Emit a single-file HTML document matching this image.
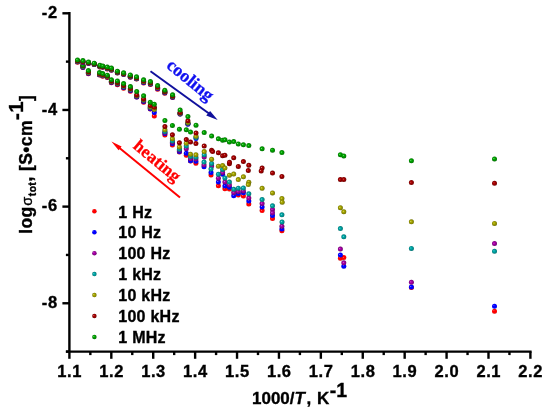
<!DOCTYPE html>
<html><head><meta charset="utf-8"><style>
html,body{margin:0;padding:0;background:#fff;}
body{width:550px;height:413px;overflow:hidden;}
svg{display:block;}
.t{font-family:"Liberation Sans",Arial,sans-serif;font-weight:bold;fill:#000;stroke:#000;stroke-width:0.35px;}
</style></head><body>
<svg width="550" height="413" viewBox="0 0 550 413">
<defs>
<radialGradient id="s0" cx="0.5" cy="0.5" r="0.55" fx="0.36" fy="0.4"><stop offset="0" stop-color="#ff9999"/><stop offset="0.28" stop-color="#ff0000"/><stop offset="0.8" stop-color="#ff0000"/><stop offset="1" stop-color="#b20000"/></radialGradient>
<radialGradient id="s1" cx="0.5" cy="0.5" r="0.55" fx="0.36" fy="0.4"><stop offset="0" stop-color="#9999ff"/><stop offset="0.28" stop-color="#0000ff"/><stop offset="0.8" stop-color="#0000ff"/><stop offset="1" stop-color="#0000b2"/></radialGradient>
<radialGradient id="s2" cx="0.5" cy="0.5" r="0.55" fx="0.36" fy="0.4"><stop offset="0" stop-color="#de99de"/><stop offset="0.28" stop-color="#ad00ad"/><stop offset="0.8" stop-color="#800080"/><stop offset="1" stop-color="#5a005a"/></radialGradient>
<radialGradient id="s3" cx="0.5" cy="0.5" r="0.55" fx="0.36" fy="0.4"><stop offset="0" stop-color="#99dede"/><stop offset="0.28" stop-color="#00adad"/><stop offset="0.8" stop-color="#008080"/><stop offset="1" stop-color="#005a5a"/></radialGradient>
<radialGradient id="s4" cx="0.5" cy="0.5" r="0.55" fx="0.36" fy="0.4"><stop offset="0" stop-color="#dede99"/><stop offset="0.28" stop-color="#adad00"/><stop offset="0.8" stop-color="#808000"/><stop offset="1" stop-color="#5a5a00"/></radialGradient>
<radialGradient id="s5" cx="0.5" cy="0.5" r="0.55" fx="0.36" fy="0.4"><stop offset="0" stop-color="#de9999"/><stop offset="0.28" stop-color="#ad0000"/><stop offset="0.8" stop-color="#800000"/><stop offset="1" stop-color="#5a0000"/></radialGradient>
<radialGradient id="s6" cx="0.5" cy="0.5" r="0.55" fx="0.36" fy="0.4"><stop offset="0" stop-color="#99de99"/><stop offset="0.28" stop-color="#00ad00"/><stop offset="0.8" stop-color="#008000"/><stop offset="1" stop-color="#005a00"/></radialGradient>
</defs>
<g stroke="#000" stroke-width="2.4" fill="none">
<line x1="69.4" y1="12" x2="69.4" y2="351.6"/>
<line x1="65.9" y1="351.6" x2="531.6" y2="351.6"/>
<line x1="69.40" y1="351.60" x2="69.40" y2="358.80"/>
<line x1="90.35" y1="351.60" x2="90.35" y2="355.10"/>
<line x1="111.31" y1="351.60" x2="111.31" y2="358.80"/>
<line x1="132.26" y1="351.60" x2="132.26" y2="355.10"/>
<line x1="153.22" y1="351.60" x2="153.22" y2="358.80"/>
<line x1="174.17" y1="351.60" x2="174.17" y2="355.10"/>
<line x1="195.13" y1="351.60" x2="195.13" y2="358.80"/>
<line x1="216.08" y1="351.60" x2="216.08" y2="355.10"/>
<line x1="237.04" y1="351.60" x2="237.04" y2="358.80"/>
<line x1="257.99" y1="351.60" x2="257.99" y2="355.10"/>
<line x1="278.95" y1="351.60" x2="278.95" y2="358.80"/>
<line x1="299.90" y1="351.60" x2="299.90" y2="355.10"/>
<line x1="320.85" y1="351.60" x2="320.85" y2="358.80"/>
<line x1="341.81" y1="351.60" x2="341.81" y2="355.10"/>
<line x1="362.76" y1="351.60" x2="362.76" y2="358.80"/>
<line x1="383.72" y1="351.60" x2="383.72" y2="355.10"/>
<line x1="404.67" y1="351.60" x2="404.67" y2="358.80"/>
<line x1="425.63" y1="351.60" x2="425.63" y2="355.10"/>
<line x1="446.58" y1="351.60" x2="446.58" y2="358.80"/>
<line x1="467.54" y1="351.60" x2="467.54" y2="355.10"/>
<line x1="488.49" y1="351.60" x2="488.49" y2="358.80"/>
<line x1="509.45" y1="351.60" x2="509.45" y2="355.10"/>
<line x1="530.40" y1="351.60" x2="530.40" y2="358.80"/>
<line x1="62.40" y1="13.30" x2="69.40" y2="13.30"/>
<line x1="65.90" y1="61.63" x2="69.40" y2="61.63"/>
<line x1="62.40" y1="109.96" x2="69.40" y2="109.96"/>
<line x1="65.90" y1="158.29" x2="69.40" y2="158.29"/>
<line x1="62.40" y1="206.61" x2="69.40" y2="206.61"/>
<line x1="65.90" y1="254.94" x2="69.40" y2="254.94"/>
<line x1="62.40" y1="303.27" x2="69.40" y2="303.27"/>
<line x1="65.90" y1="351.60" x2="69.40" y2="351.60"/>
</g>
<g class="t" font-size="16.5" letter-spacing="0.6" text-anchor="middle">
<text x="69.70" y="376.9">1.1</text>
<text x="111.61" y="376.9">1.2</text>
<text x="153.52" y="376.9">1.3</text>
<text x="195.43" y="376.9">1.4</text>
<text x="237.34" y="376.9">1.5</text>
<text x="279.25" y="376.9">1.6</text>
<text x="321.15" y="376.9">1.7</text>
<text x="363.06" y="376.9">1.8</text>
<text x="404.97" y="376.9">1.9</text>
<text x="446.88" y="376.9">2.0</text>
<text x="488.79" y="376.9">2.1</text>
<text x="530.70" y="376.9">2.2</text>
</g>
<g class="t" font-size="16.5" letter-spacing="1" text-anchor="end">
<text x="58.3" y="17.90">-2</text>
<text x="58.3" y="114.56">-4</text>
<text x="58.3" y="211.21">-6</text>
<text x="58.3" y="307.87">-8</text>
</g>
<text class="t" font-size="17" x="252" y="404">1000/<tspan font-style="italic">T</tspan><tspan dx="1.5">,</tspan><tspan dx="1.2"> K</tspan><tspan dy="-7.5" dx="0.5" font-size="19.5">-1</tspan></text>
<text class="t" font-size="17.5" letter-spacing="0.4" transform="translate(31.5,233.8) rotate(-90)">log<tspan font-weight="normal" font-size="14.5" dx="0.5">&#963;</tspan><tspan dy="4.3" font-size="10.3" dx="0.3">tot</tspan><tspan dy="-4.3" dx="0.3">, [S&#8226;cm</tspan><tspan dy="-8.2" font-size="20.5">-1</tspan><tspan dy="8.2">]</tspan></text>
<g class="t" font-size="16" letter-spacing="0.25">
<circle cx="94.4" cy="211.30" r="2.25" stroke="none" fill="url(#s0)"/>
<text x="118.3" y="217.50">1 Hz</text>
<circle cx="94.4" cy="232.23" r="2.25" stroke="none" fill="url(#s1)"/>
<text x="118.3" y="238.43">10 Hz</text>
<circle cx="94.4" cy="253.16" r="2.25" stroke="none" fill="url(#s2)"/>
<text x="118.3" y="259.36">100 Hz</text>
<circle cx="94.4" cy="274.09" r="2.25" stroke="none" fill="url(#s3)"/>
<text x="118.3" y="280.29">1 kHz</text>
<circle cx="94.4" cy="295.02" r="2.25" stroke="none" fill="url(#s4)"/>
<text x="118.3" y="301.22">10 kHz</text>
<circle cx="94.4" cy="315.95" r="2.25" stroke="none" fill="url(#s5)"/>
<text x="118.3" y="322.15">100 kHz</text>
<circle cx="94.4" cy="336.88" r="2.25" stroke="none" fill="url(#s6)"/>
<text x="118.3" y="343.08">1 MHz</text>
</g>
<!-- arrows -->
<g>
<line x1="150.5" y1="71.3" x2="209" y2="113.5" stroke="#10109c" stroke-width="2"/>
<polygon points="217.7,120 206.2,115.6 210.1,110.9" fill="#10109c"/>
<line x1="180" y1="197.5" x2="119.5" y2="148" stroke="#ff0000" stroke-width="2"/>
<polygon points="111.4,141.5 121.6,146.6 118.6,150.3" fill="#ff0000"/>
</g>
<text font-family="'Liberation Serif',serif" font-weight="bold" font-size="18" fill="#1010f0" stroke="#1010f0" stroke-width="0.3" transform="translate(165.4,66.9) rotate(39.5)">cooling</text>
<text font-family="'Liberation Serif',serif" font-weight="bold" font-size="17.5" fill="#ff0000" stroke="#ff0000" stroke-width="0.3" transform="translate(132.3,147.6) rotate(39.5)">heating</text>
<g>
<circle cx="82.9" cy="67.6" r="2.5" fill="url(#s0)"/>
<circle cx="82.9" cy="67.2" r="2.5" fill="url(#s1)"/>
<circle cx="82.9" cy="66.8" r="2.5" fill="url(#s2)"/>
<circle cx="82.9" cy="66.4" r="2.5" fill="url(#s3)"/>
<circle cx="82.9" cy="66" r="2.5" fill="url(#s4)"/>
<circle cx="82.9" cy="65.6" r="2.5" fill="url(#s5)"/>
<circle cx="82.9" cy="65.2" r="2.5" fill="url(#s6)"/>
<circle cx="77.5" cy="62.2" r="2.5" fill="url(#s0)"/>
<circle cx="82.9" cy="62.6" r="2.5" fill="url(#s0)"/>
<circle cx="88.5" cy="63.4" r="2.5" fill="url(#s0)"/>
<circle cx="94.2" cy="64.6" r="2.5" fill="url(#s0)"/>
<circle cx="99.9" cy="67" r="2.5" fill="url(#s0)"/>
<circle cx="102.7" cy="67.2" r="2.5" fill="url(#s0)"/>
<circle cx="107.3" cy="68.9" r="2.5" fill="url(#s0)"/>
<circle cx="111.4" cy="70.2" r="2.5" fill="url(#s0)"/>
<circle cx="117.4" cy="73" r="2.5" fill="url(#s0)"/>
<circle cx="123.6" cy="74.6" r="2.5" fill="url(#s0)"/>
<circle cx="130.3" cy="77.3" r="2.5" fill="url(#s0)"/>
<circle cx="136.5" cy="79.1" r="2.5" fill="url(#s0)"/>
<circle cx="143.6" cy="83" r="2.5" fill="url(#s0)"/>
<circle cx="150.4" cy="84.6" r="2.5" fill="url(#s0)"/>
<circle cx="157.6" cy="89.2" r="2.5" fill="url(#s0)"/>
<circle cx="164.8" cy="93.2" r="2.5" fill="url(#s0)"/>
<circle cx="172.6" cy="97.6" r="2.5" fill="url(#s0)"/>
<circle cx="180.1" cy="114.1" r="2.5" fill="url(#s0)"/>
<circle cx="187.9" cy="123.5" r="2.5" fill="url(#s0)"/>
<circle cx="88.4" cy="73.8" r="2.5" fill="url(#s0)"/>
<circle cx="99.5" cy="75.1" r="2.5" fill="url(#s0)"/>
<circle cx="102.7" cy="76.2" r="2.5" fill="url(#s0)"/>
<circle cx="107.3" cy="77.5" r="2.5" fill="url(#s0)"/>
<circle cx="111.4" cy="82.8" r="2.5" fill="url(#s0)"/>
<circle cx="117.4" cy="84.7" r="2.5" fill="url(#s0)"/>
<circle cx="123.6" cy="88.2" r="2.5" fill="url(#s0)"/>
<circle cx="130.4" cy="91.2" r="2.5" fill="url(#s0)"/>
<circle cx="136.7" cy="97.1" r="2.5" fill="url(#s0)"/>
<circle cx="143.6" cy="102.2" r="2.5" fill="url(#s0)"/>
<circle cx="150.3" cy="109.1" r="2.5" fill="url(#s0)"/>
<circle cx="154.3" cy="116" r="2.5" fill="url(#s0)"/>
<circle cx="164.9" cy="134.9" r="2.5" fill="url(#s0)"/>
<circle cx="172.4" cy="145" r="2.5" fill="url(#s0)"/>
<circle cx="179.4" cy="152" r="2.5" fill="url(#s0)"/>
<circle cx="186.3" cy="155.2" r="2.5" fill="url(#s0)"/>
<circle cx="190.5" cy="161" r="2.5" fill="url(#s0)"/>
<circle cx="195.9" cy="163.3" r="2.5" fill="url(#s0)"/>
<circle cx="211" cy="175.1" r="2.5" fill="url(#s0)"/>
<circle cx="218.4" cy="185.7" r="2.5" fill="url(#s0)"/>
<circle cx="224.9" cy="188.8" r="2.5" fill="url(#s0)"/>
<circle cx="229.4" cy="189.1" r="2.5" fill="url(#s0)"/>
<circle cx="238.3" cy="195" r="2.5" fill="url(#s0)"/>
<circle cx="243.4" cy="196" r="2.5" fill="url(#s0)"/>
<circle cx="248.8" cy="203.9" r="2.5" fill="url(#s0)"/>
<circle cx="262.1" cy="210.6" r="2.5" fill="url(#s0)"/>
<circle cx="272.5" cy="218.5" r="2.5" fill="url(#s0)"/>
<circle cx="281.9" cy="230.8" r="2.5" fill="url(#s0)"/>
<circle cx="340.4" cy="258.2" r="2.5" fill="url(#s0)"/>
<circle cx="343.8" cy="257.6" r="2.5" fill="url(#s0)"/>
<circle cx="411.4" cy="287.5" r="2.5" fill="url(#s0)"/>
<circle cx="494.5" cy="311.2" r="2.5" fill="url(#s0)"/>
<circle cx="77.5" cy="61.8" r="2.5" fill="url(#s1)"/>
<circle cx="82.9" cy="62.3" r="2.5" fill="url(#s1)"/>
<circle cx="88.5" cy="63.2" r="2.5" fill="url(#s1)"/>
<circle cx="94.2" cy="64.4" r="2.5" fill="url(#s1)"/>
<circle cx="99.9" cy="66.7" r="2.5" fill="url(#s1)"/>
<circle cx="102.7" cy="67" r="2.5" fill="url(#s1)"/>
<circle cx="107.3" cy="68.6" r="2.5" fill="url(#s1)"/>
<circle cx="111.4" cy="69.9" r="2.5" fill="url(#s1)"/>
<circle cx="117.4" cy="72.7" r="2.5" fill="url(#s1)"/>
<circle cx="123.6" cy="74.3" r="2.5" fill="url(#s1)"/>
<circle cx="130.3" cy="76.9" r="2.5" fill="url(#s1)"/>
<circle cx="136.5" cy="78.7" r="2.5" fill="url(#s1)"/>
<circle cx="143.6" cy="82.5" r="2.5" fill="url(#s1)"/>
<circle cx="150.4" cy="84.1" r="2.5" fill="url(#s1)"/>
<circle cx="157.6" cy="88.6" r="2.5" fill="url(#s1)"/>
<circle cx="164.8" cy="92.7" r="2.5" fill="url(#s1)"/>
<circle cx="172.6" cy="97.2" r="2.5" fill="url(#s1)"/>
<circle cx="180.1" cy="114" r="2.5" fill="url(#s1)"/>
<circle cx="187.9" cy="124.3" r="2.5" fill="url(#s1)"/>
<circle cx="196" cy="138.6" r="2.5" fill="url(#s1)"/>
<circle cx="88.4" cy="73.3" r="2.5" fill="url(#s1)"/>
<circle cx="99.5" cy="74.7" r="2.5" fill="url(#s1)"/>
<circle cx="102.7" cy="75.8" r="2.5" fill="url(#s1)"/>
<circle cx="107.3" cy="77.1" r="2.5" fill="url(#s1)"/>
<circle cx="111.4" cy="82.3" r="2.5" fill="url(#s1)"/>
<circle cx="117.4" cy="84.1" r="2.5" fill="url(#s1)"/>
<circle cx="123.6" cy="87.5" r="2.5" fill="url(#s1)"/>
<circle cx="130.4" cy="90.5" r="2.5" fill="url(#s1)"/>
<circle cx="136.7" cy="97" r="2.5" fill="url(#s1)"/>
<circle cx="143.6" cy="101.5" r="2.5" fill="url(#s1)"/>
<circle cx="150.3" cy="108.7" r="2.5" fill="url(#s1)"/>
<circle cx="154.3" cy="112.6" r="2.5" fill="url(#s1)"/>
<circle cx="164.9" cy="133.4" r="2.5" fill="url(#s1)"/>
<circle cx="172.4" cy="143.4" r="2.5" fill="url(#s1)"/>
<circle cx="179.4" cy="151.5" r="2.5" fill="url(#s1)"/>
<circle cx="186.3" cy="153.3" r="2.5" fill="url(#s1)"/>
<circle cx="190.5" cy="160.7" r="2.5" fill="url(#s1)"/>
<circle cx="195.9" cy="161.3" r="2.5" fill="url(#s1)"/>
<circle cx="204" cy="166.7" r="2.5" fill="url(#s1)"/>
<circle cx="211" cy="172.4" r="2.5" fill="url(#s1)"/>
<circle cx="218.4" cy="182" r="2.5" fill="url(#s1)"/>
<circle cx="222.6" cy="174.2" r="2.5" fill="url(#s1)"/>
<circle cx="224.9" cy="186.1" r="2.5" fill="url(#s1)"/>
<circle cx="229.4" cy="187.3" r="2.5" fill="url(#s1)"/>
<circle cx="233.7" cy="195.8" r="2.5" fill="url(#s1)"/>
<circle cx="238.3" cy="193.5" r="2.5" fill="url(#s1)"/>
<circle cx="243.4" cy="192.8" r="2.5" fill="url(#s1)"/>
<circle cx="248.8" cy="201" r="2.5" fill="url(#s1)"/>
<circle cx="262.1" cy="207" r="2.5" fill="url(#s1)"/>
<circle cx="272.5" cy="215.5" r="2.5" fill="url(#s1)"/>
<circle cx="281.9" cy="229" r="2.5" fill="url(#s1)"/>
<circle cx="340.4" cy="254.9" r="2.5" fill="url(#s1)"/>
<circle cx="343.8" cy="266.2" r="2.5" fill="url(#s1)"/>
<circle cx="411.4" cy="287" r="2.5" fill="url(#s1)"/>
<circle cx="494.5" cy="306.2" r="2.5" fill="url(#s1)"/>
<circle cx="77.5" cy="61.6" r="2.5" fill="url(#s2)"/>
<circle cx="82.9" cy="62" r="2.5" fill="url(#s2)"/>
<circle cx="88.5" cy="63" r="2.5" fill="url(#s2)"/>
<circle cx="94.2" cy="64.2" r="2.5" fill="url(#s2)"/>
<circle cx="99.9" cy="66.5" r="2.5" fill="url(#s2)"/>
<circle cx="102.7" cy="66.8" r="2.5" fill="url(#s2)"/>
<circle cx="107.3" cy="68.4" r="2.5" fill="url(#s2)"/>
<circle cx="111.4" cy="69.6" r="2.5" fill="url(#s2)"/>
<circle cx="117.4" cy="72.5" r="2.5" fill="url(#s2)"/>
<circle cx="123.6" cy="74.1" r="2.5" fill="url(#s2)"/>
<circle cx="130.3" cy="76.6" r="2.5" fill="url(#s2)"/>
<circle cx="136.5" cy="78.4" r="2.5" fill="url(#s2)"/>
<circle cx="143.6" cy="82.1" r="2.5" fill="url(#s2)"/>
<circle cx="150.4" cy="83.7" r="2.5" fill="url(#s2)"/>
<circle cx="157.6" cy="88.2" r="2.5" fill="url(#s2)"/>
<circle cx="164.8" cy="92.4" r="2.5" fill="url(#s2)"/>
<circle cx="172.6" cy="96.8" r="2.5" fill="url(#s2)"/>
<circle cx="180.1" cy="113.7" r="2.5" fill="url(#s2)"/>
<circle cx="187.9" cy="123.8" r="2.5" fill="url(#s2)"/>
<circle cx="88.4" cy="72.9" r="2.5" fill="url(#s2)"/>
<circle cx="99.5" cy="74.4" r="2.5" fill="url(#s2)"/>
<circle cx="102.7" cy="75.5" r="2.5" fill="url(#s2)"/>
<circle cx="107.3" cy="76.9" r="2.5" fill="url(#s2)"/>
<circle cx="111.4" cy="81.9" r="2.5" fill="url(#s2)"/>
<circle cx="117.4" cy="83.7" r="2.5" fill="url(#s2)"/>
<circle cx="123.6" cy="86.9" r="2.5" fill="url(#s2)"/>
<circle cx="130.4" cy="89.9" r="2.5" fill="url(#s2)"/>
<circle cx="136.7" cy="96.5" r="2.5" fill="url(#s2)"/>
<circle cx="143.6" cy="100.9" r="2.5" fill="url(#s2)"/>
<circle cx="150.3" cy="108" r="2.5" fill="url(#s2)"/>
<circle cx="154.3" cy="108.2" r="2.5" fill="url(#s2)"/>
<circle cx="164.9" cy="132.6" r="2.5" fill="url(#s2)"/>
<circle cx="172.4" cy="142.2" r="2.5" fill="url(#s2)"/>
<circle cx="179.4" cy="150.3" r="2.5" fill="url(#s2)"/>
<circle cx="186.3" cy="148.7" r="2.5" fill="url(#s2)"/>
<circle cx="190.5" cy="158.8" r="2.5" fill="url(#s2)"/>
<circle cx="195.9" cy="159" r="2.5" fill="url(#s2)"/>
<circle cx="204.2" cy="157" r="2.5" fill="url(#s2)"/>
<circle cx="204" cy="164.8" r="2.5" fill="url(#s2)"/>
<circle cx="211.6" cy="166.1" r="2.5" fill="url(#s2)"/>
<circle cx="218.4" cy="178.2" r="2.5" fill="url(#s2)"/>
<circle cx="222.6" cy="172.5" r="2.5" fill="url(#s2)"/>
<circle cx="224.9" cy="181.9" r="2.5" fill="url(#s2)"/>
<circle cx="229.4" cy="185" r="2.5" fill="url(#s2)"/>
<circle cx="233.7" cy="192.5" r="2.5" fill="url(#s2)"/>
<circle cx="238.3" cy="191.4" r="2.5" fill="url(#s2)"/>
<circle cx="243.4" cy="190.9" r="2.5" fill="url(#s2)"/>
<circle cx="248.8" cy="198" r="2.5" fill="url(#s2)"/>
<circle cx="262.1" cy="203.5" r="2.5" fill="url(#s2)"/>
<circle cx="272.5" cy="209.5" r="2.5" fill="url(#s2)"/>
<circle cx="272.5" cy="212.8" r="2.5" fill="url(#s2)"/>
<circle cx="281.9" cy="226.2" r="2.5" fill="url(#s2)"/>
<circle cx="340.4" cy="249.1" r="2.5" fill="url(#s2)"/>
<circle cx="343.8" cy="262.8" r="2.5" fill="url(#s2)"/>
<circle cx="411.4" cy="282.3" r="2.5" fill="url(#s2)"/>
<circle cx="494.5" cy="243.5" r="2.5" fill="url(#s2)"/>
<circle cx="77.5" cy="61.3" r="2.5" fill="url(#s3)"/>
<circle cx="82.9" cy="61.8" r="2.5" fill="url(#s3)"/>
<circle cx="88.5" cy="62.8" r="2.5" fill="url(#s3)"/>
<circle cx="94.2" cy="64.1" r="2.5" fill="url(#s3)"/>
<circle cx="99.9" cy="66.4" r="2.5" fill="url(#s3)"/>
<circle cx="102.7" cy="66.7" r="2.5" fill="url(#s3)"/>
<circle cx="107.3" cy="68.2" r="2.5" fill="url(#s3)"/>
<circle cx="111.4" cy="69.4" r="2.5" fill="url(#s3)"/>
<circle cx="117.4" cy="72.3" r="2.5" fill="url(#s3)"/>
<circle cx="123.6" cy="73.9" r="2.5" fill="url(#s3)"/>
<circle cx="130.3" cy="76.4" r="2.5" fill="url(#s3)"/>
<circle cx="136.5" cy="78.2" r="2.5" fill="url(#s3)"/>
<circle cx="143.6" cy="81.8" r="2.5" fill="url(#s3)"/>
<circle cx="150.4" cy="83.4" r="2.5" fill="url(#s3)"/>
<circle cx="157.6" cy="87.8" r="2.5" fill="url(#s3)"/>
<circle cx="164.8" cy="92.1" r="2.5" fill="url(#s3)"/>
<circle cx="172.6" cy="96.5" r="2.5" fill="url(#s3)"/>
<circle cx="180.1" cy="113.3" r="2.5" fill="url(#s3)"/>
<circle cx="187.9" cy="123.2" r="2.5" fill="url(#s3)"/>
<circle cx="196" cy="137.5" r="2.5" fill="url(#s3)"/>
<circle cx="88.4" cy="72.5" r="2.5" fill="url(#s3)"/>
<circle cx="99.5" cy="74.1" r="2.5" fill="url(#s3)"/>
<circle cx="102.7" cy="75.2" r="2.5" fill="url(#s3)"/>
<circle cx="107.3" cy="76.6" r="2.5" fill="url(#s3)"/>
<circle cx="111.4" cy="81.6" r="2.5" fill="url(#s3)"/>
<circle cx="117.4" cy="83.3" r="2.5" fill="url(#s3)"/>
<circle cx="123.6" cy="86.5" r="2.5" fill="url(#s3)"/>
<circle cx="130.4" cy="89.5" r="2.5" fill="url(#s3)"/>
<circle cx="136.7" cy="96" r="2.5" fill="url(#s3)"/>
<circle cx="143.6" cy="100.2" r="2.5" fill="url(#s3)"/>
<circle cx="150.3" cy="107.2" r="2.5" fill="url(#s3)"/>
<circle cx="154.3" cy="108.6" r="2.5" fill="url(#s3)"/>
<circle cx="164.9" cy="131.6" r="2.5" fill="url(#s3)"/>
<circle cx="172.4" cy="141" r="2.5" fill="url(#s3)"/>
<circle cx="179.4" cy="149.2" r="2.5" fill="url(#s3)"/>
<circle cx="186.3" cy="146" r="2.5" fill="url(#s3)"/>
<circle cx="190.5" cy="156.5" r="2.5" fill="url(#s3)"/>
<circle cx="195.9" cy="157.3" r="2.5" fill="url(#s3)"/>
<circle cx="204.2" cy="154.7" r="2.5" fill="url(#s3)"/>
<circle cx="204" cy="162.1" r="2.5" fill="url(#s3)"/>
<circle cx="211.6" cy="163.4" r="2.5" fill="url(#s3)"/>
<circle cx="211" cy="169.1" r="2.5" fill="url(#s3)"/>
<circle cx="218.4" cy="174.3" r="2.5" fill="url(#s3)"/>
<circle cx="222.6" cy="169.5" r="2.5" fill="url(#s3)"/>
<circle cx="224.9" cy="178" r="2.5" fill="url(#s3)"/>
<circle cx="229.4" cy="182.1" r="2.5" fill="url(#s3)"/>
<circle cx="233.7" cy="189.3" r="2.5" fill="url(#s3)"/>
<circle cx="238.3" cy="188.2" r="2.5" fill="url(#s3)"/>
<circle cx="243.4" cy="188" r="2.5" fill="url(#s3)"/>
<circle cx="248.8" cy="193.8" r="2.5" fill="url(#s3)"/>
<circle cx="262.1" cy="199.5" r="2.5" fill="url(#s3)"/>
<circle cx="272.5" cy="205.8" r="2.5" fill="url(#s3)"/>
<circle cx="281.9" cy="214.8" r="2.5" fill="url(#s3)"/>
<circle cx="282" cy="222" r="2.5" fill="url(#s3)"/>
<circle cx="340.4" cy="228.6" r="2.5" fill="url(#s3)"/>
<circle cx="343.8" cy="236.8" r="2.5" fill="url(#s3)"/>
<circle cx="411.4" cy="248.4" r="2.5" fill="url(#s3)"/>
<circle cx="494.5" cy="251.3" r="2.5" fill="url(#s3)"/>
<circle cx="77.5" cy="61.1" r="2.5" fill="url(#s4)"/>
<circle cx="82.9" cy="61.6" r="2.5" fill="url(#s4)"/>
<circle cx="88.5" cy="62.7" r="2.5" fill="url(#s4)"/>
<circle cx="94.2" cy="63.9" r="2.5" fill="url(#s4)"/>
<circle cx="99.9" cy="66.2" r="2.5" fill="url(#s4)"/>
<circle cx="102.7" cy="66.6" r="2.5" fill="url(#s4)"/>
<circle cx="107.3" cy="68" r="2.5" fill="url(#s4)"/>
<circle cx="111.4" cy="69.2" r="2.5" fill="url(#s4)"/>
<circle cx="117.4" cy="72.1" r="2.5" fill="url(#s4)"/>
<circle cx="123.6" cy="73.7" r="2.5" fill="url(#s4)"/>
<circle cx="130.3" cy="76.1" r="2.5" fill="url(#s4)"/>
<circle cx="136.5" cy="77.9" r="2.5" fill="url(#s4)"/>
<circle cx="143.6" cy="81.5" r="2.5" fill="url(#s4)"/>
<circle cx="150.4" cy="83.1" r="2.5" fill="url(#s4)"/>
<circle cx="157.6" cy="87.4" r="2.5" fill="url(#s4)"/>
<circle cx="164.8" cy="91.8" r="2.5" fill="url(#s4)"/>
<circle cx="172.6" cy="96.3" r="2.5" fill="url(#s4)"/>
<circle cx="180.1" cy="113" r="2.5" fill="url(#s4)"/>
<circle cx="187.9" cy="122.4" r="2.5" fill="url(#s4)"/>
<circle cx="196" cy="136.3" r="2.5" fill="url(#s4)"/>
<circle cx="88.4" cy="72.2" r="2.5" fill="url(#s4)"/>
<circle cx="99.5" cy="73.9" r="2.5" fill="url(#s4)"/>
<circle cx="102.7" cy="75" r="2.5" fill="url(#s4)"/>
<circle cx="107.3" cy="76.4" r="2.5" fill="url(#s4)"/>
<circle cx="111.4" cy="81.3" r="2.5" fill="url(#s4)"/>
<circle cx="117.4" cy="82.9" r="2.5" fill="url(#s4)"/>
<circle cx="123.6" cy="86" r="2.5" fill="url(#s4)"/>
<circle cx="130.4" cy="89" r="2.5" fill="url(#s4)"/>
<circle cx="136.7" cy="95.5" r="2.5" fill="url(#s4)"/>
<circle cx="143.6" cy="99.6" r="2.5" fill="url(#s4)"/>
<circle cx="150.3" cy="106.5" r="2.5" fill="url(#s4)"/>
<circle cx="154.3" cy="109.4" r="2.5" fill="url(#s4)"/>
<circle cx="164.9" cy="129.7" r="2.5" fill="url(#s4)"/>
<circle cx="172.4" cy="138.7" r="2.5" fill="url(#s4)"/>
<circle cx="179.4" cy="146.9" r="2.5" fill="url(#s4)"/>
<circle cx="186.3" cy="143.2" r="2.5" fill="url(#s4)"/>
<circle cx="190.5" cy="154.2" r="2.5" fill="url(#s4)"/>
<circle cx="195.9" cy="154.7" r="2.5" fill="url(#s4)"/>
<circle cx="204.2" cy="151.6" r="2.5" fill="url(#s4)"/>
<circle cx="211.6" cy="159.2" r="2.5" fill="url(#s4)"/>
<circle cx="218.4" cy="166.2" r="2.5" fill="url(#s4)"/>
<circle cx="222.6" cy="165.5" r="2.5" fill="url(#s4)"/>
<circle cx="224.9" cy="168.1" r="2.5" fill="url(#s4)"/>
<circle cx="229.4" cy="175.2" r="2.5" fill="url(#s4)"/>
<circle cx="233.7" cy="174" r="2.5" fill="url(#s4)"/>
<circle cx="238.3" cy="179.6" r="2.5" fill="url(#s4)"/>
<circle cx="243.4" cy="176.7" r="2.5" fill="url(#s4)"/>
<circle cx="248.8" cy="182.3" r="2.5" fill="url(#s4)"/>
<circle cx="248.3" cy="184.6" r="2.5" fill="url(#s4)"/>
<circle cx="262.1" cy="188.3" r="2.5" fill="url(#s4)"/>
<circle cx="272.5" cy="192.9" r="2.5" fill="url(#s4)"/>
<circle cx="281.9" cy="198.5" r="2.5" fill="url(#s4)"/>
<circle cx="282.2" cy="202.2" r="2.5" fill="url(#s4)"/>
<circle cx="340.4" cy="207.7" r="2.5" fill="url(#s4)"/>
<circle cx="343.8" cy="211.7" r="2.5" fill="url(#s4)"/>
<circle cx="411.4" cy="221.8" r="2.5" fill="url(#s4)"/>
<circle cx="494.5" cy="223.4" r="2.5" fill="url(#s4)"/>
<circle cx="77.5" cy="60.8" r="2.5" fill="url(#s5)"/>
<circle cx="82.9" cy="61.4" r="2.5" fill="url(#s5)"/>
<circle cx="88.5" cy="62.5" r="2.5" fill="url(#s5)"/>
<circle cx="94.2" cy="63.8" r="2.5" fill="url(#s5)"/>
<circle cx="99.9" cy="66" r="2.5" fill="url(#s5)"/>
<circle cx="102.7" cy="66.4" r="2.5" fill="url(#s5)"/>
<circle cx="107.3" cy="67.8" r="2.5" fill="url(#s5)"/>
<circle cx="111.4" cy="68.9" r="2.5" fill="url(#s5)"/>
<circle cx="117.4" cy="71.9" r="2.5" fill="url(#s5)"/>
<circle cx="123.6" cy="73.5" r="2.5" fill="url(#s5)"/>
<circle cx="130.3" cy="75.9" r="2.5" fill="url(#s5)"/>
<circle cx="136.5" cy="77.7" r="2.5" fill="url(#s5)"/>
<circle cx="143.6" cy="81.1" r="2.5" fill="url(#s5)"/>
<circle cx="150.4" cy="82.7" r="2.5" fill="url(#s5)"/>
<circle cx="157.6" cy="87" r="2.5" fill="url(#s5)"/>
<circle cx="164.8" cy="91.5" r="2.5" fill="url(#s5)"/>
<circle cx="172.6" cy="95.9" r="2.5" fill="url(#s5)"/>
<circle cx="180.1" cy="112.5" r="2.5" fill="url(#s5)"/>
<circle cx="187.9" cy="120.8" r="2.5" fill="url(#s5)"/>
<circle cx="196" cy="133.1" r="2.5" fill="url(#s5)"/>
<circle cx="88.4" cy="71.8" r="2.5" fill="url(#s5)"/>
<circle cx="99.5" cy="73.6" r="2.5" fill="url(#s5)"/>
<circle cx="102.7" cy="74.6" r="2.5" fill="url(#s5)"/>
<circle cx="107.3" cy="76.1" r="2.5" fill="url(#s5)"/>
<circle cx="111.4" cy="80.9" r="2.5" fill="url(#s5)"/>
<circle cx="117.4" cy="82.5" r="2.5" fill="url(#s5)"/>
<circle cx="123.6" cy="85.4" r="2.5" fill="url(#s5)"/>
<circle cx="130.4" cy="88.4" r="2.5" fill="url(#s5)"/>
<circle cx="136.7" cy="95" r="2.5" fill="url(#s5)"/>
<circle cx="143.6" cy="99" r="2.5" fill="url(#s5)"/>
<circle cx="150.3" cy="105.5" r="2.5" fill="url(#s5)"/>
<circle cx="154.3" cy="107.3" r="2.5" fill="url(#s5)"/>
<circle cx="164.9" cy="126.5" r="2.5" fill="url(#s5)"/>
<circle cx="172.4" cy="134.7" r="2.5" fill="url(#s5)"/>
<circle cx="179.4" cy="142.7" r="2.5" fill="url(#s5)"/>
<circle cx="186.3" cy="139.5" r="2.5" fill="url(#s5)"/>
<circle cx="190.5" cy="142" r="2.5" fill="url(#s5)"/>
<circle cx="195.9" cy="143.6" r="2.5" fill="url(#s5)"/>
<circle cx="204.2" cy="146" r="2.5" fill="url(#s5)"/>
<circle cx="211.6" cy="150.3" r="2.5" fill="url(#s5)"/>
<circle cx="212.6" cy="151.6" r="2.5" fill="url(#s5)"/>
<circle cx="218.4" cy="152.7" r="2.5" fill="url(#s5)"/>
<circle cx="222.6" cy="155.7" r="2.5" fill="url(#s5)"/>
<circle cx="224.9" cy="155.2" r="2.5" fill="url(#s5)"/>
<circle cx="229.4" cy="163.8" r="2.5" fill="url(#s5)"/>
<circle cx="229.5" cy="162.3" r="2.5" fill="url(#s5)"/>
<circle cx="233.7" cy="157.7" r="2.5" fill="url(#s5)"/>
<circle cx="238.3" cy="166.4" r="2.5" fill="url(#s5)"/>
<circle cx="243.4" cy="161.5" r="2.5" fill="url(#s5)"/>
<circle cx="248.8" cy="165.3" r="2.5" fill="url(#s5)"/>
<circle cx="248.3" cy="170.5" r="2.5" fill="url(#s5)"/>
<circle cx="262.1" cy="168.1" r="2.5" fill="url(#s5)"/>
<circle cx="261.2" cy="171.1" r="2.5" fill="url(#s5)"/>
<circle cx="272.5" cy="173.1" r="2.5" fill="url(#s5)"/>
<circle cx="281.9" cy="176.4" r="2.5" fill="url(#s5)"/>
<circle cx="340.4" cy="179.5" r="2.5" fill="url(#s5)"/>
<circle cx="343.8" cy="179.5" r="2.5" fill="url(#s5)"/>
<circle cx="411.4" cy="182.5" r="2.5" fill="url(#s5)"/>
<circle cx="494.5" cy="183.3" r="2.5" fill="url(#s5)"/>
<circle cx="77.5" cy="59.9" r="2.5" fill="url(#s6)"/>
<circle cx="82.9" cy="60.6" r="2.5" fill="url(#s6)"/>
<circle cx="88.5" cy="61.9" r="2.5" fill="url(#s6)"/>
<circle cx="94.2" cy="63.2" r="2.5" fill="url(#s6)"/>
<circle cx="99.9" cy="65.3" r="2.5" fill="url(#s6)"/>
<circle cx="102.7" cy="65.9" r="2.5" fill="url(#s6)"/>
<circle cx="107.3" cy="67.1" r="2.5" fill="url(#s6)"/>
<circle cx="111.4" cy="68.1" r="2.5" fill="url(#s6)"/>
<circle cx="117.4" cy="71.2" r="2.5" fill="url(#s6)"/>
<circle cx="123.6" cy="72.7" r="2.5" fill="url(#s6)"/>
<circle cx="130.3" cy="74.9" r="2.5" fill="url(#s6)"/>
<circle cx="136.5" cy="76.7" r="2.5" fill="url(#s6)"/>
<circle cx="143.6" cy="79.8" r="2.5" fill="url(#s6)"/>
<circle cx="150.4" cy="81.5" r="2.5" fill="url(#s6)"/>
<circle cx="157.6" cy="85.5" r="2.5" fill="url(#s6)"/>
<circle cx="164.8" cy="90.3" r="2.5" fill="url(#s6)"/>
<circle cx="172.6" cy="94.8" r="2.5" fill="url(#s6)"/>
<circle cx="180.1" cy="110" r="2.5" fill="url(#s6)"/>
<circle cx="187.9" cy="116.5" r="2.5" fill="url(#s6)"/>
<circle cx="196" cy="125.2" r="2.5" fill="url(#s6)"/>
<circle cx="88.4" cy="70.5" r="2.5" fill="url(#s6)"/>
<circle cx="99.5" cy="72.6" r="2.5" fill="url(#s6)"/>
<circle cx="102.7" cy="73.6" r="2.5" fill="url(#s6)"/>
<circle cx="107.3" cy="75.2" r="2.5" fill="url(#s6)"/>
<circle cx="111.4" cy="79.7" r="2.5" fill="url(#s6)"/>
<circle cx="117.4" cy="81" r="2.5" fill="url(#s6)"/>
<circle cx="123.6" cy="83.6" r="2.5" fill="url(#s6)"/>
<circle cx="130.4" cy="86.6" r="2.5" fill="url(#s6)"/>
<circle cx="136.7" cy="91.4" r="2.5" fill="url(#s6)"/>
<circle cx="143.6" cy="95.7" r="2.5" fill="url(#s6)"/>
<circle cx="150.3" cy="102.3" r="2.5" fill="url(#s6)"/>
<circle cx="154.3" cy="104.2" r="2.5" fill="url(#s6)"/>
<circle cx="164.9" cy="120.4" r="2.5" fill="url(#s6)"/>
<circle cx="172.4" cy="125.4" r="2.5" fill="url(#s6)"/>
<circle cx="179.4" cy="129.3" r="2.5" fill="url(#s6)"/>
<circle cx="186.3" cy="129.7" r="2.5" fill="url(#s6)"/>
<circle cx="190.5" cy="132" r="2.5" fill="url(#s6)"/>
<circle cx="204.2" cy="132.5" r="2.5" fill="url(#s6)"/>
<circle cx="211.6" cy="136" r="2.5" fill="url(#s6)"/>
<circle cx="218.4" cy="138.8" r="2.5" fill="url(#s6)"/>
<circle cx="222.6" cy="140.2" r="2.5" fill="url(#s6)"/>
<circle cx="224.9" cy="139.7" r="2.5" fill="url(#s6)"/>
<circle cx="229.4" cy="142" r="2.5" fill="url(#s6)"/>
<circle cx="233.7" cy="141.6" r="2.5" fill="url(#s6)"/>
<circle cx="238.3" cy="143.9" r="2.5" fill="url(#s6)"/>
<circle cx="243.4" cy="144.8" r="2.5" fill="url(#s6)"/>
<circle cx="248.8" cy="145.6" r="2.5" fill="url(#s6)"/>
<circle cx="262.1" cy="148.8" r="2.5" fill="url(#s6)"/>
<circle cx="272.5" cy="150.2" r="2.5" fill="url(#s6)"/>
<circle cx="281.9" cy="152.5" r="2.5" fill="url(#s6)"/>
<circle cx="340.4" cy="154.7" r="2.5" fill="url(#s6)"/>
<circle cx="343.8" cy="155.9" r="2.5" fill="url(#s6)"/>
<circle cx="411.4" cy="160.7" r="2.5" fill="url(#s6)"/>
<circle cx="494.5" cy="158.9" r="2.5" fill="url(#s6)"/>
</g>
</svg>
</body></html>
